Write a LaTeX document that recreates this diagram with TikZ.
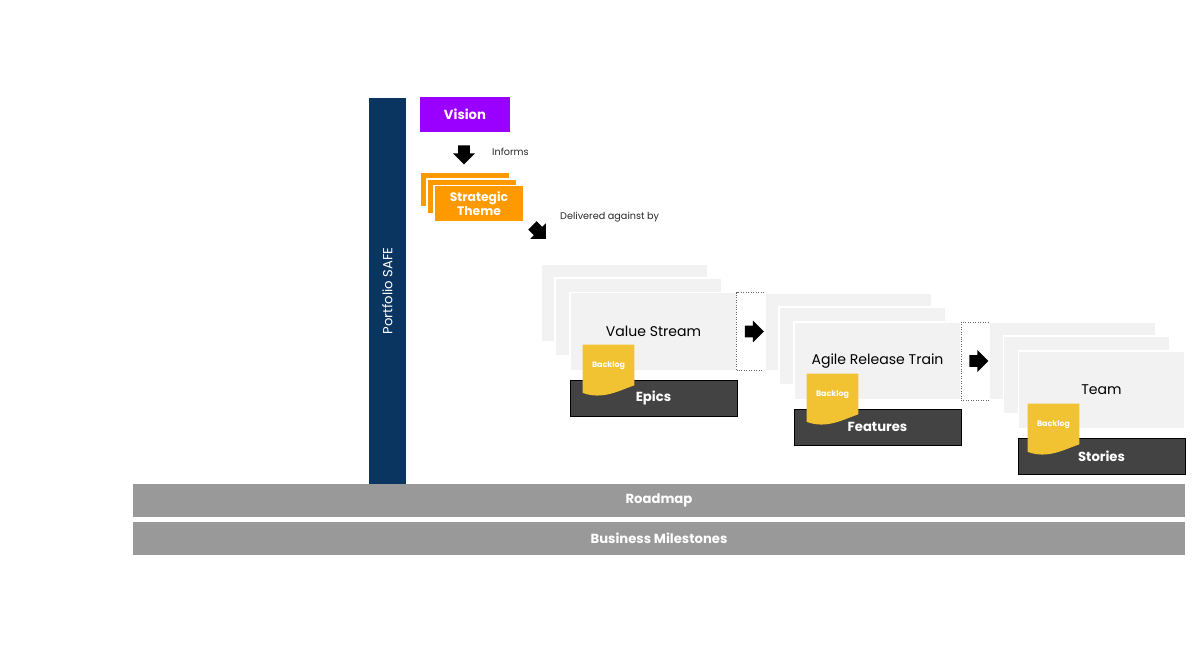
\documentclass[tikz,border=0pt]{standalone}
\usepackage{fontspec}
\setmainfont{Poppins}
\usetikzlibrary{shapes.arrows,positioning,calc}
\definecolor{safeblue}{HTML}{0B3561}
\definecolor{safepurple}{HTML}{9900FF}
\definecolor{safeorange}{HTML}{FF9900}
\definecolor{safegray}{HTML}{F2F2F2}
\definecolor{safedark}{HTML}{434343}
\definecolor{safeyellow}{HTML}{F1C232}
\definecolor{safemid}{HTML}{999999}
\tikzset{
    layer/.style={rectangle, fill=safegray, draw=white, line width=0.6pt, minimum width=3.34cm, minimum height=1.56cm, font=\fontsize{8}{9}\selectfont},
    level/.style={rectangle, fill=safedark, draw=black, line width=0.4pt, minimum width=3.34cm, minimum height=0.72cm, text=white, font=\bfseries\fontsize{7.5}{9}\selectfont},
    theme/.style={rectangle, fill=safeorange, draw=white, line width=0.6pt, minimum width=1.8cm, minimum height=0.7cm, text=white, align=center, font=\bfseries\fontsize{7}{8}\selectfont},
    backlog/.style={rectangle, minimum width=1.02cm, minimum height=1cm, text=white, font=\bfseries\fontsize{4.5}{5}\selectfont},
    band/.style={rectangle, fill=safemid, minimum width=21.04cm, minimum height=0.66cm, text=white, font=\bfseries\fontsize{7.5}{9}\selectfont},
    flowarrow/.style={single arrow, fill=black, minimum width=0.44cm, single arrow head extend=0.07cm, minimum height=0.38cm, inner xsep=0pt, inner ysep=0.075cm},
    handoff/.style={rectangle, draw=black!60, densely dotted, minimum width=0.6cm, minimum height=1.56cm},
    note/.style={font=\fontsize{5.5}{7}\selectfont, text=black!85}
}
\newcommand\waveback[1]{%
    \fill[safeyellow] (#1.north west) -- (#1.north east) -- ([yshift=0.2cm]#1.south east)
        .. controls ([shift={(-0.3cm,0.1cm)}]#1.south east) and ([shift={(0.4cm,-0.1cm)}]#1.south west) .. ([yshift=0.05cm]#1.south west) -- cycle;}
\begin{document}
\begin{tikzpicture}[x=0.02cm, y=-0.02cm]
    \useasboundingbox (0,0) rectangle (1200,645);

    % Portfolio column
    \node [fill=safeblue, minimum width=0.74cm, minimum height=7.72cm] (portfolio) at (387.5,291) {};
    \node [rotate=90, text=white, font=\fontsize{7.5}{9}\selectfont] at (portfolio) {Portfolio SAFE};

    % Vision and themes
    \node [rectangle, fill=safepurple, minimum width=1.8cm, minimum height=0.7cm, text=white, font=\bfseries\fontsize{7.5}{9}\selectfont] (vision) at (465,114.5) {Vision};
    \node [flowarrow, rotate=-90] (inform) at (464,152) {};
    \node [note, anchor=west] at (486,152) {Informs};
    \node [theme] (theme1) at (465,189.5) {};
    \node [theme] (theme2) at (472,196.5) {};
    \node [theme] (theme3) at (479,203.5) {Strategic\\Theme};
    \node [flowarrow, rotate=-45] (deliver) at (537,230) {};
    \node [note, anchor=west] at (554,217) {Delivered against by};

    % Value stream
    \node [layer] (vs1) at (624.5,303) {};
    \node [layer] (vs2) at (638.5,317) {};
    \node [layer] (vs3) at (653.5,331.5) {Value Stream};
    \node [level] (epics) at (653.5,398) {Epics};
    \node [backlog] (bl1) at (608.5,370) {};
    \waveback{bl1}
    \node [backlog, yshift=0.08cm] at (bl1) {Backlog};
    \node [handoff] (hand1) at (751.5,331.5) {};
    \node [flowarrow] (go1) at (hand1) {};

    % Agile release train
    \node [layer] (art1) at (848.5,332) {};
    \node [layer] (art2) at (862.5,346) {};
    \node [layer] (art3) at (877.5,361) {Agile Release Train};
    \node [level] (features) at (877.5,427) {Features};
    \node [backlog] (bl2) at (832.5,399) {};
    \waveback{bl2}
    \node [backlog, yshift=0.08cm] at (bl2) {Backlog};
    \node [handoff] (hand2) at (976,361) {};
    \node [flowarrow] (go2) at (hand2) {};

    % Team
    \node [layer] (team1) at (1072.5,361) {};
    \node [layer] (team2) at (1086.5,375) {};
    \node [layer] (team3) at (1101.5,390) {Team};
    \node [level] (stories) at (1101.5,456) {Stories};
    \node [backlog] (bl3) at (1053.5,429) {};
    \waveback{bl3}
    \node [backlog, yshift=0.08cm] at (bl3) {Backlog};

    % Bands
    \node [band] (roadmap) at (659,500.5) {Roadmap};
    \node [band] (milestones) at (659,538.5) {Business Milestones};
\end{tikzpicture}
\end{document}
